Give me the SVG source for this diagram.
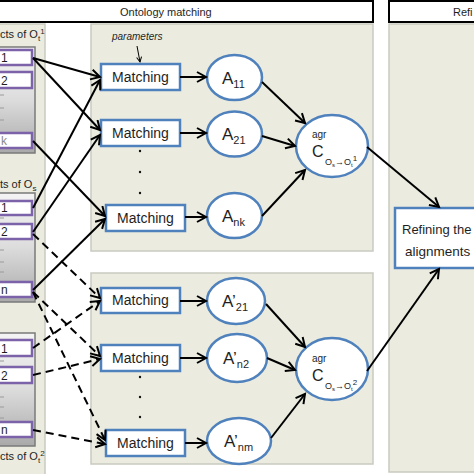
<svg xmlns="http://www.w3.org/2000/svg" width="474" height="474" viewBox="0 0 474 474">
<defs>
<linearGradient id="gg" x1="0" y1="0" x2="0" y2="1">
<stop offset="0" stop-color="#f4f4f4"/>
<stop offset="0.5" stop-color="#dcdcdc"/>
<stop offset="1" stop-color="#a9a9a9"/>
</linearGradient>
<marker id="ah" markerUnits="userSpaceOnUse" markerWidth="14" markerHeight="14" refX="10" refY="6" orient="auto">
<path d="M1,1 L10,6 L1,11" fill="none" stroke="#000" stroke-width="2"/>
</marker>
<marker id="ahs" markerUnits="userSpaceOnUse" markerWidth="8" markerHeight="8" refX="6" refY="3.5" orient="auto">
<path d="M1,1 L6,3.5 L1,6" fill="none" stroke="#000" stroke-width="1"/>
</marker>
</defs>
<style>
text{font-family:"Liberation Sans",Arial,sans-serif;fill:#1e1e1e}
.panel{fill:#ebecdf;stroke:#c9cac0;stroke-width:1.5}
.hdr{fill:#fff;stroke:#000;stroke-width:2}
.grp{fill:url(#gg);stroke:#7a7a7a;stroke-width:1.5}
.item{fill:#fff;stroke:#7c62a8;stroke-width:2.5}
.itxt{font-size:12px}
.mbox{fill:#fff;stroke:#4f81bd;stroke-width:2.5}
.mtxt{font-size:14px;text-anchor:middle}
.ell{fill:#fff;stroke:#4f81bd;stroke-width:2.5}
.atxt{font-size:17px}
.c{stroke:#000;stroke-width:2;fill:none;marker-end:url(#ah)}
.d{stroke-dasharray:8,5}
.dot{fill:#111}
.tick{stroke:#9a9a9a;stroke-width:1}
</style>
<rect width="474" height="474" fill="#fff"/>
<!-- panels -->
<rect class="panel" x="-2" y="24" width="47" height="452"/>
<rect class="panel" x="91" y="24" width="282" height="227"/>
<rect class="panel" x="91" y="273" width="282" height="191"/>
<rect class="panel" x="389" y="24" width="90" height="448"/>
<g id="hdr-matching">
<rect class="hdr" x="-2" y="1" width="375" height="21"/>
<text x="120" y="16" font-size="11">Ontology matching</text>
</g>
<g id="hdr-refining">
<rect class="hdr" x="389" y="1" width="90" height="21"/>
<text x="453" y="16" font-size="11">Refi</text>
</g>
<!-- left groups -->
<g id="group-ot1">
<text x="0" y="38" font-size="11">cts of O<tspan font-size="8" dy="3">t</tspan><tspan font-size="8" dy="-7">1</tspan></text>
<rect class="grp" x="-3" y="47" width="38" height="106"/>
<rect class="item" x="-5" y="50" width="37" height="15"/>
<text class="itxt" x="1" y="62">1</text>
<rect class="item" x="-5" y="72" width="37" height="16"/>
<text class="itxt" x="1" y="85">2</text>
<line class="tick" x1="0" y1="95" x2="4" y2="95"/>
<line class="tick" x1="0" y1="108" x2="4" y2="108"/>
<line class="tick" x1="0" y1="120" x2="4" y2="120"/>
<rect class="item" x="-5" y="133" width="37" height="15"/>
<text class="itxt" x="1" y="145" style="fill:#8a8a8a">k</text>
</g>
<g id="group-os">
<text x="0" y="188" font-size="11">ts of O<tspan font-size="8" dy="3">s</tspan></text>
<rect class="grp" x="-3" y="193" width="38" height="109"/>
<rect class="item" x="-5" y="201" width="37" height="14"/>
<text class="itxt" x="1" y="212">1</text>
<line class="tick" x1="0" y1="218" x2="4" y2="218"/>
<rect class="item" x="-5" y="224" width="37" height="15"/>
<text class="itxt" x="1" y="236">2</text>
<line class="tick" x1="0" y1="250" x2="4" y2="250"/>
<line class="tick" x1="0" y1="262" x2="4" y2="262"/>
<line class="tick" x1="0" y1="272" x2="4" y2="272"/>
<rect class="item" x="-5" y="282" width="37" height="15"/>
<text class="itxt" x="1" y="294">n</text>
</g>
<g id="group-ot2">
<rect class="grp" x="-3" y="333" width="38" height="113"/>
<rect class="item" x="-5" y="340" width="37" height="16"/>
<text class="itxt" x="1" y="353">1</text>
<line class="tick" x1="0" y1="361" x2="4" y2="361"/>
<rect class="item" x="-5" y="367" width="37" height="16"/>
<text class="itxt" x="1" y="380">2</text>
<line class="tick" x1="0" y1="397" x2="4" y2="397"/>
<line class="tick" x1="0" y1="407" x2="4" y2="407"/>
<line class="tick" x1="0" y1="418" x2="4" y2="418"/>
<rect class="item" x="-5" y="422" width="37" height="15"/>
<text class="itxt" x="1" y="434">n</text>
<text x="0" y="460" font-size="11">cts of O<tspan font-size="8" dy="3">t</tspan><tspan font-size="8" dy="-7">2</tspan></text>
</g>
<!-- parameters -->
<g id="parameters">
<text x="112" y="40" font-size="10" font-style="italic">parameters</text>
<line x1="137" y1="46" x2="140" y2="62" stroke="#000" stroke-width="1" marker-end="url(#ahs)"/>
</g>
<!-- matching boxes -->
<g id="m1"><rect class="mbox" x="101" y="64" width="79" height="26"/><text class="mtxt" x="140.5" y="82">Matching</text></g>
<g id="m2"><rect class="mbox" x="101" y="120" width="79" height="26"/><text class="mtxt" x="140.5" y="138">Matching</text></g>
<g id="m3"><rect class="mbox" x="106" y="205" width="79" height="26"/><text class="mtxt" x="145.5" y="223">Matching</text></g>
<g id="m4"><rect class="mbox" x="101" y="288" width="79" height="25"/><text class="mtxt" x="140.5" y="305">Matching</text></g>
<g id="m5"><rect class="mbox" x="101" y="345" width="79" height="26"/><text class="mtxt" x="140.5" y="363">Matching</text></g>
<g id="m6"><rect class="mbox" x="106" y="430" width="79" height="26"/><text class="mtxt" x="145.5" y="448">Matching</text></g>
<g id="dots">
<circle class="dot" cx="140" cy="151" r="1.2"/>
<circle class="dot" cx="140" cy="172" r="1.2"/>
<circle class="dot" cx="140" cy="193" r="1.2"/>
<circle class="dot" cx="140" cy="377" r="1.2"/>
<circle class="dot" cx="140" cy="397" r="1.2"/>
<circle class="dot" cx="140" cy="417" r="1.2"/>
</g>
<!-- alignments -->
<g id="a11"><ellipse class="ell" cx="234.5" cy="77.5" rx="27.5" ry="22.5"/><text class="atxt" x="222" y="84">A<tspan font-size="11" dy="4">11</tspan></text></g>
<g id="a21"><ellipse class="ell" cx="234.5" cy="134" rx="27.5" ry="22.5"/><text class="atxt" x="222" y="140">A<tspan font-size="11" dy="4">21</tspan></text></g>
<g id="ank"><ellipse class="ell" cx="234.5" cy="215.5" rx="27.5" ry="22.5"/><text class="atxt" x="222" y="222">A<tspan font-size="11" dy="4">nk</tspan></text></g>
<g id="ap21"><ellipse class="ell" cx="236" cy="301" rx="29" ry="23"/><text class="atxt" x="222" y="307">A’<tspan font-size="11" dy="4">21</tspan></text></g>
<g id="apn2"><ellipse class="ell" cx="237" cy="358" rx="30" ry="24"/><text class="atxt" x="223" y="364">A’<tspan font-size="11" dy="4">n2</tspan></text></g>
<g id="apnm"><ellipse class="ell" cx="239" cy="441" rx="32" ry="23"/><text class="atxt" x="224" y="447">A’<tspan font-size="11" dy="4">nm</tspan></text></g>
<!-- aggregated -->
<g id="c1"><ellipse class="ell" cx="332" cy="146" rx="36" ry="31"/>
<text x="312" y="138" font-size="10">agr</text>
<text x="312" y="157" font-size="16">C</text>
<text x="325" y="165" font-size="9">O<tspan font-size="6" dy="2">s</tspan><tspan dy="-2">→O</tspan><tspan font-size="6" dy="2">t</tspan><tspan font-size="8" dy="-6">1</tspan></text>
</g>
<g id="c2"><ellipse class="ell" cx="332" cy="369" rx="36" ry="31"/>
<text x="312" y="362" font-size="10">agr</text>
<text x="312" y="381" font-size="16">C</text>
<text x="325" y="389" font-size="9">O<tspan font-size="6" dy="2">s</tspan><tspan dy="-2">→O</tspan><tspan font-size="6" dy="2">t</tspan><tspan font-size="8" dy="-6">2</tspan></text>
</g>
<g id="refine"><rect class="mbox" x="395" y="208" width="84" height="60"/>
<text x="402" y="234" font-size="13">Refining the</text>
<text x="405" y="256" font-size="13.5">alignments</text>
</g>
<!-- connectors -->
<g id="connectors">
<line class="c" x1="33" y1="58" x2="100" y2="77"/>
<line class="c" x1="33" y1="58" x2="100" y2="130"/>
<line class="c" x1="33" y1="141" x2="105" y2="216"/>
<line class="c" x1="33" y1="208" x2="100" y2="80"/>
<line class="c" x1="33" y1="232" x2="100" y2="135"/>
<line class="c" x1="33" y1="290" x2="105" y2="219"/>
<line class="c d" x1="33" y1="234" x2="100" y2="298"/>
<line class="c d" x1="33" y1="348" x2="100" y2="301"/>
<line class="c d" x1="33" y1="292" x2="100" y2="356"/>
<line class="c d" x1="33" y1="375" x2="100" y2="359"/>
<line class="c d" x1="33" y1="292" x2="105" y2="440"/>
<line class="c d" x1="33" y1="430" x2="105" y2="444"/>
<line class="c" x1="180" y1="77" x2="206" y2="77"/>
<line class="c" x1="180" y1="133" x2="206" y2="133"/>
<line class="c" x1="185" y1="217" x2="206" y2="217"/>
<line class="c" x1="180" y1="301" x2="206" y2="301"/>
<line class="c" x1="180" y1="358" x2="206" y2="358"/>
<line class="c" x1="185" y1="443" x2="206" y2="443"/>
<line class="c" x1="262" y1="82" x2="305" y2="123"/>
<line class="c" x1="262" y1="136" x2="295" y2="146"/>
<line class="c" x1="262" y1="216" x2="305" y2="170"/>
<line class="c" x1="266" y1="304" x2="305" y2="347"/>
<line class="c" x1="267" y1="358" x2="295" y2="370"/>
<line class="c" x1="271" y1="438" x2="305" y2="394"/>
<line class="c" x1="367" y1="147" x2="439" y2="207"/>
<line class="c" x1="367" y1="371" x2="439" y2="269"/>
</g>
</svg>
